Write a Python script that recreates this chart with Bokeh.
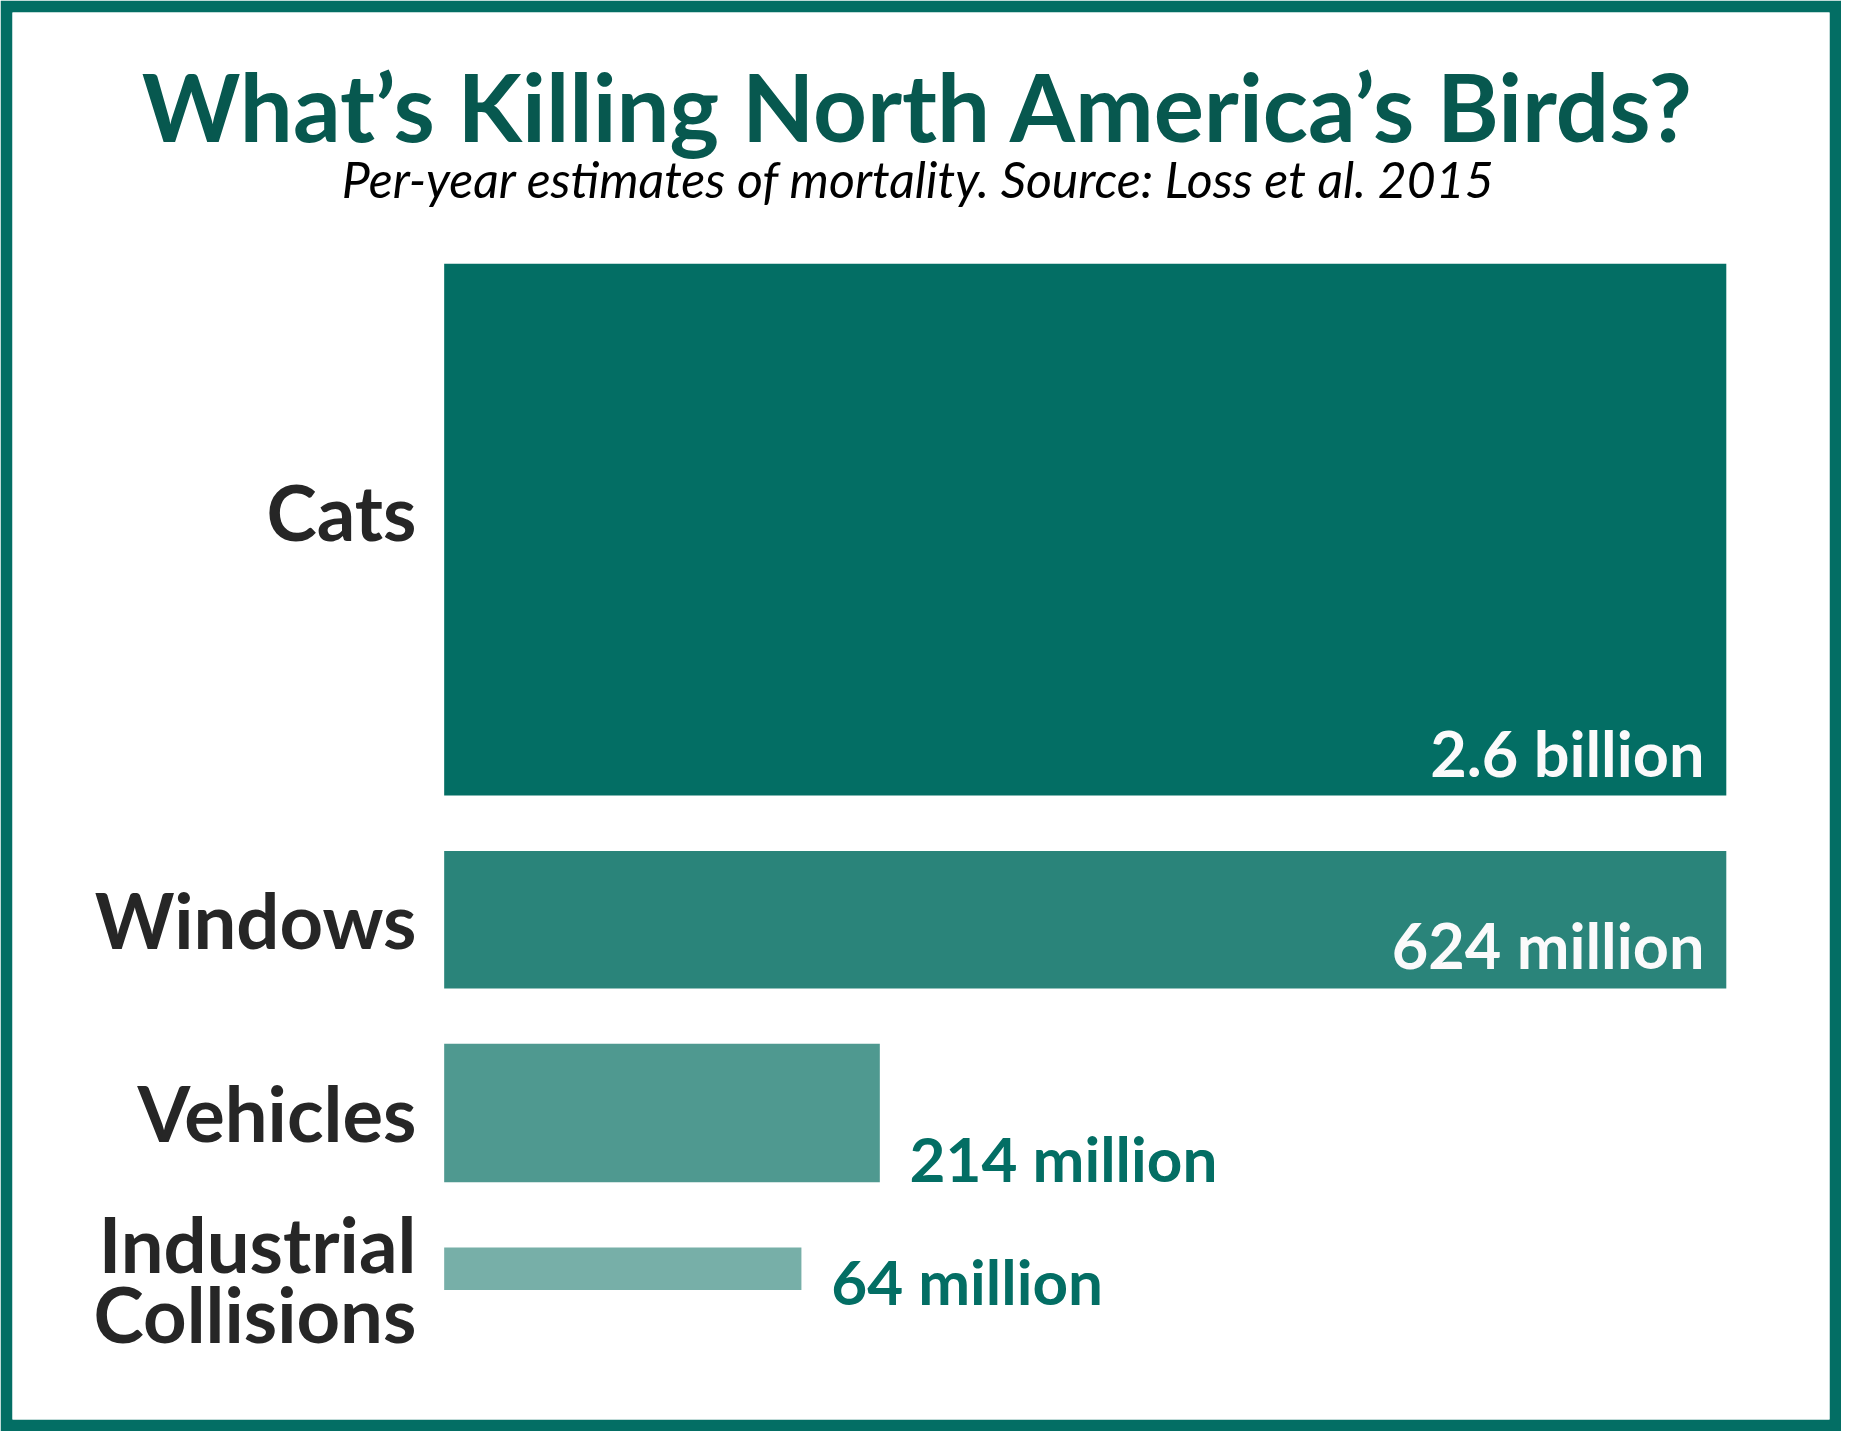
from bokeh.plotting import figure
from bokeh.models import ColumnDataSource, Range1d, Label
from bokeh.core.properties import value
from bokeh.embed import file_html
from bokeh.resources import INLINE

# ---------------- data ----------------
categories = ["Cats", "Windows", "Vehicles", "Industrial\nCollisions"]
deaths_millions = [2600, 624, 214, 64]
value_labels = ["2.6 billion", "624 million", "214 million", "64 million"]
title_text = "What\u2019s Killing North America\u2019s Birds?"
subtitle_text = "Per-year estimates of mortality. Source: Loss et al. 2015"

# ---------------- stylised infographic geometry (reference pixel units) ----------------
bar_length = [1292, 1292, 439, 360]
bar_thickness = [538, 139, 140, 43]
gap_before = [0, 56, 56, 66]
first_top = 265
label_shift = [-18, 0, 0, 10]          # category label nudge from bar centre
value_dy = [-44, -44, -24, -9]         # value label centre relative to bar bottom

bar_colors = ["#036e64", "#2a847a", "#4f9990", "#77afa8"]
TEAL = "#036e64"
TITLE_C = "#07584f"
LABEL_C = "#262626"

tops, bottoms = [], []
cur = first_top
for t, g in zip(bar_thickness, gap_before):
    cur += g
    tops.append(cur)
    bottoms.append(cur + t)
    cur += t
centers = [(a + b) / 2 for a, b in zip(tops, bottoms)]

src = ColumnDataSource(dict(
    cat=categories, val=deaths_millions, left=[0] * 4, right=bar_length,
    top=tops, bottom=bottoms, color=bar_colors,
    ly=[c + s for c, s in zip(centers, label_shift)],
    lx=[-28] * 4,
))

inside = [i for i, L in enumerate(bar_length) if L > 1000]
outside = [i for i, L in enumerate(bar_length) if L <= 1000]
src_in = ColumnDataSource(dict(
    x=[bar_length[i] - 22 for i in inside], y=[bottoms[i] + value_dy[i] for i in inside],
    t=[value_labels[i] for i in inside]))
src_out = ColumnDataSource(dict(
    x=[bar_length[i] + 30 for i in outside], y=[bottoms[i] + value_dy[i] for i in outside],
    t=[value_labels[i] for i in outside]))

W, H, B = 1841, 1431, 12
p = figure(width=W, height=H, x_range=Range1d(13 - 448, 1844 - 448),
           y_range=Range1d(1434, 11), output_backend="svg", toolbar_location=None,
           x_axis_type=None, y_axis_type=None)
p.min_border_left = p.min_border_right = p.min_border_top = p.min_border_bottom = B
p.border_fill_color = TEAL
p.background_fill_color = "white"
p.outline_line_color = None
p.grid.visible = False

p.quad(left="left", right="right", top="top", bottom="bottom", color="color",
       line_color=None, source=src)

p.text(x="lx", y="ly", text="cat", source=src, text_align="right",
       text_baseline="middle", text_font=value("Lato"), text_font_style="bold",
       text_font_size="76px", text_color=LABEL_C, text_line_height=0.77)

p.text(x="x", y="y", text="t", source=src_in, text_align="right",
       text_baseline="middle",
       text_font=value("Lato"), text_font_style="bold", text_font_size="63px",
       text_color="#fbfafb")
p.text(x="x", y="y", text="t", source=src_out, text_align="left",
       text_baseline="middle",
       text_font=value("Lato"), text_font_style="bold", text_font_size="62px",
       text_color=TEAL)

p.add_layout(Label(x=478, y=105, text=title_text, text_align="center",
                   text_baseline="middle", text_font="Lato",
                   text_font_style="bold", text_font_size="94px",
                   text_color=TITLE_C))
p.add_layout(Label(x=478, y=179, text=subtitle_text, text_align="center",
                   text_baseline="middle", text_font="Lato",
                   text_font_style="italic", text_font_size="50px",
                   text_color="#000000"))

open("out.html", "w").write(file_html(p, INLINE))
